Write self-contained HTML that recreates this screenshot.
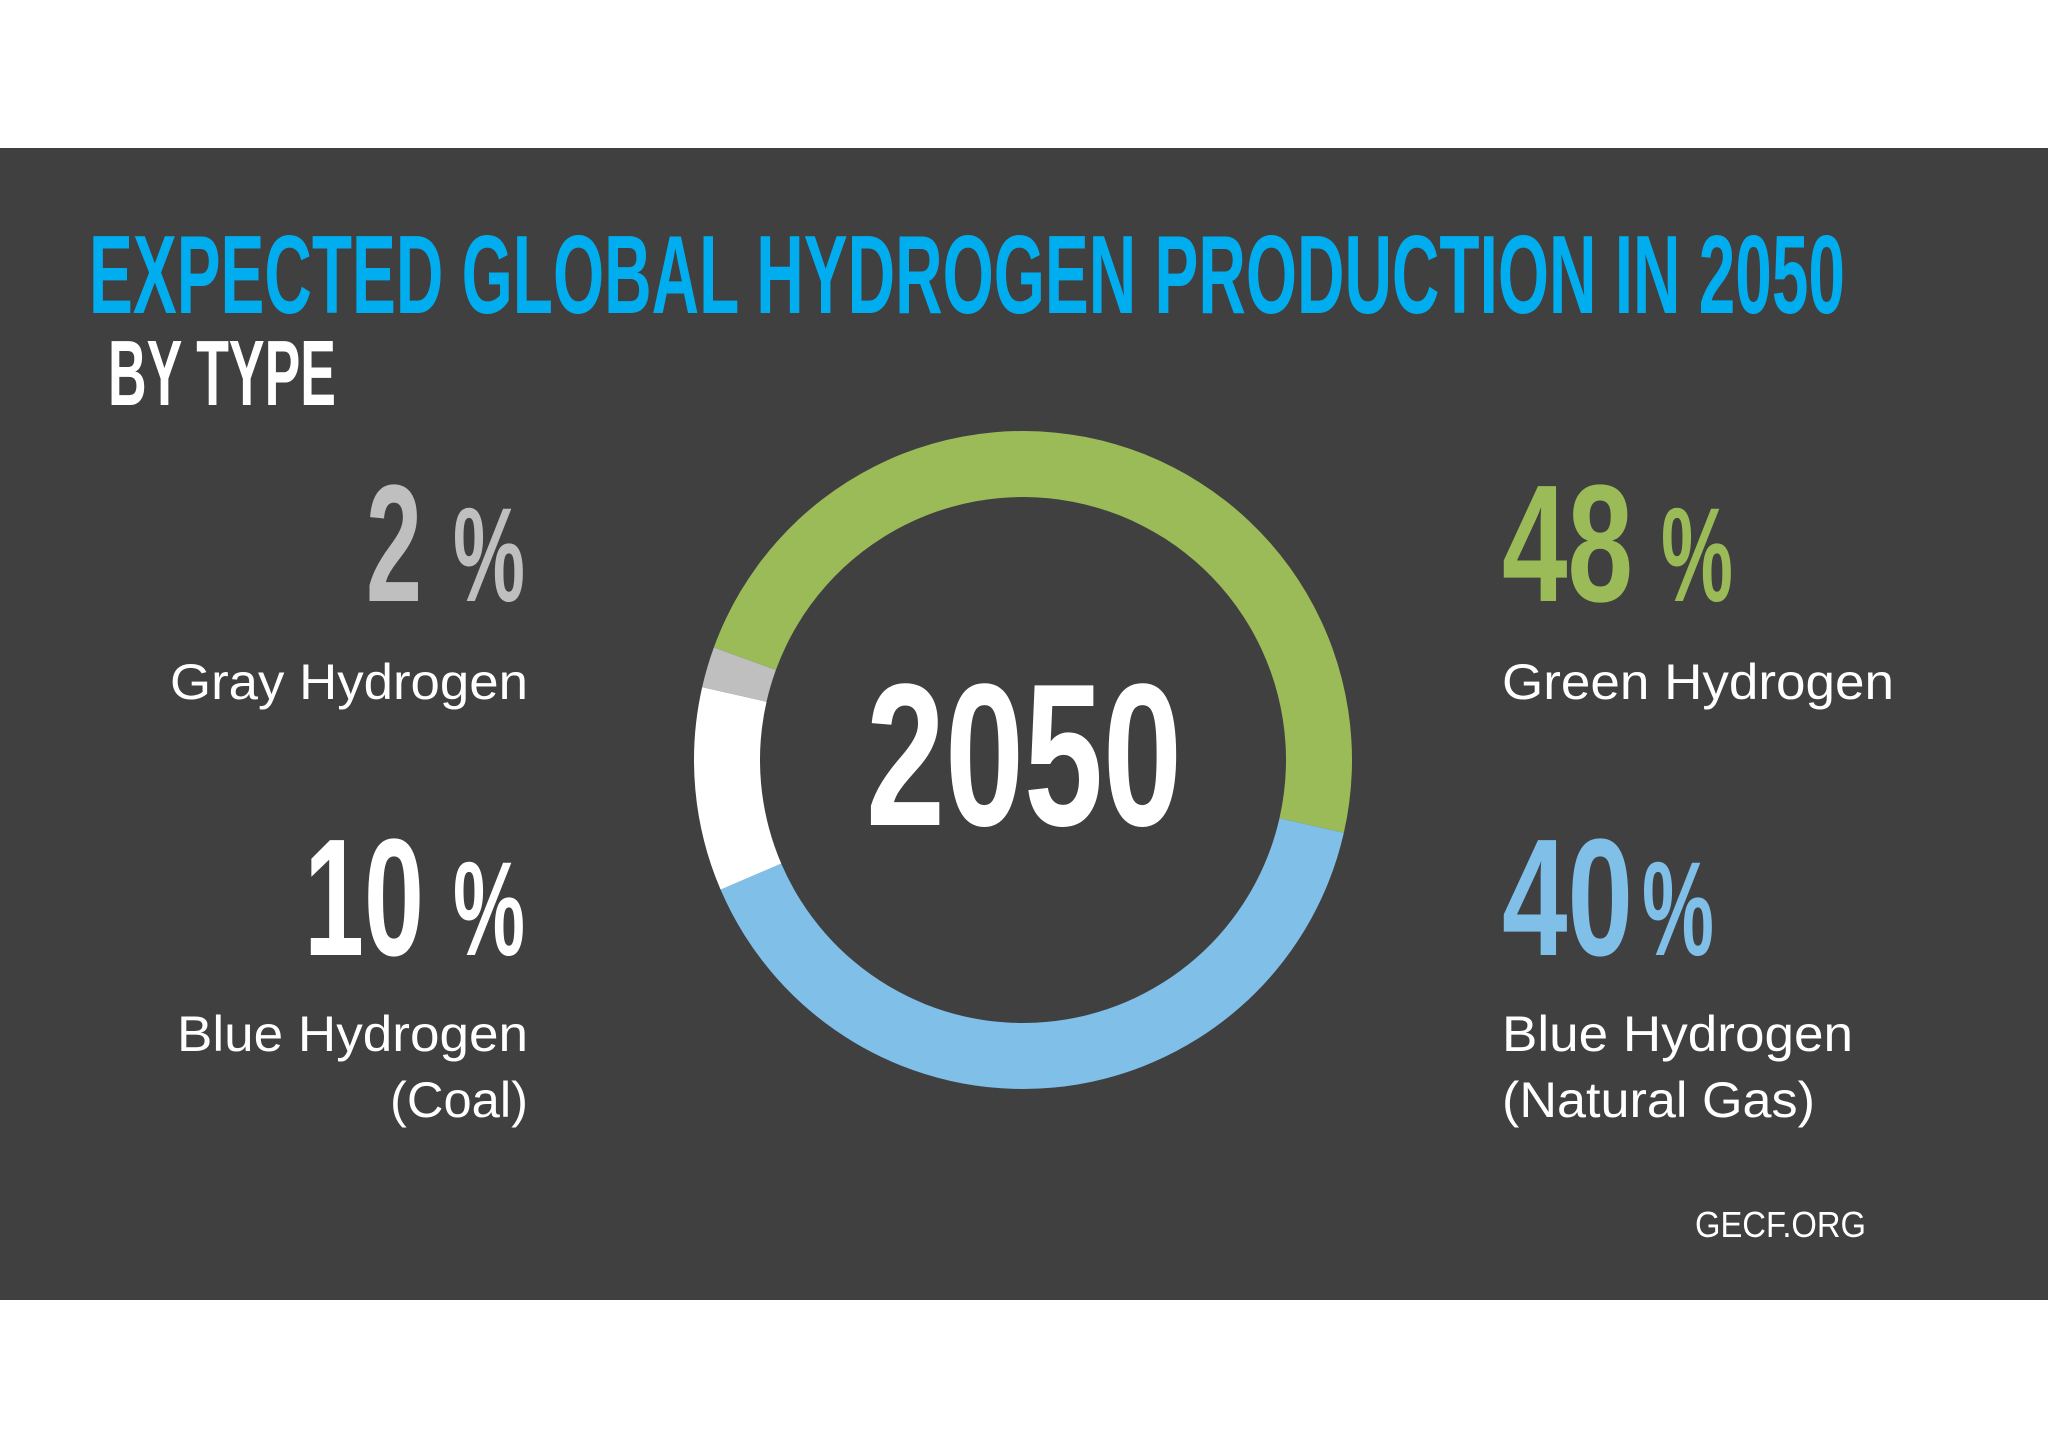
<!DOCTYPE html>
<html><head><meta charset="utf-8"><style>
html,body{margin:0;padding:0;background:#fff;}
svg{display:block;}
</style></head><body>
<svg width="2048" height="1448" viewBox="0 0 2048 1448" xmlns="http://www.w3.org/2000/svg" font-family="Liberation Sans, sans-serif">
<rect x="0" y="0" width="2048" height="1448" fill="#ffffff"/>
<rect x="0" y="148" width="2048" height="1152" fill="#404040"/>
<text x="89" y="313" font-size="111" font-weight="bold" fill="#00aeef" textLength="1756" lengthAdjust="spacingAndGlyphs">EXPECTED GLOBAL HYDROGEN PRODUCTION IN 2050</text>
<text x="108" y="405" font-size="93" font-weight="bold" fill="#ffffff" textLength="228" lengthAdjust="spacingAndGlyphs">BY TYPE</text>
<g id="donut"></g>
<text x="1024" y="825" font-size="203" font-weight="bold" fill="#ffffff" text-anchor="middle" textLength="316" lengthAdjust="spacingAndGlyphs">2050</text>

<text x="366" y="601" font-size="167" font-weight="bold" fill="#bfbfbf" textLength="56" lengthAdjust="spacingAndGlyphs">2</text>
<text x="453" y="601" font-size="134" font-weight="bold" fill="#bfbfbf" textLength="72" lengthAdjust="spacingAndGlyphs">%</text>
<text x="170" y="699" font-size="50" fill="#ffffff" textLength="358" lengthAdjust="spacingAndGlyphs">Gray Hydrogen</text>

<text x="304" y="955" font-size="167" font-weight="bold" fill="#ffffff" textLength="120" lengthAdjust="spacingAndGlyphs">10</text>
<text x="453" y="955" font-size="134" font-weight="bold" fill="#ffffff" textLength="72" lengthAdjust="spacingAndGlyphs">%</text>
<text x="177" y="1051" font-size="50" fill="#ffffff" textLength="351" lengthAdjust="spacingAndGlyphs">Blue Hydrogen</text>
<text x="390" y="1117" font-size="50" fill="#ffffff" textLength="138" lengthAdjust="spacingAndGlyphs">(Coal)</text>

<text x="1502" y="601" font-size="167" font-weight="bold" fill="#9bbb59" textLength="131" lengthAdjust="spacingAndGlyphs">48</text>
<text x="1661" y="601" font-size="134" font-weight="bold" fill="#9bbb59" textLength="72" lengthAdjust="spacingAndGlyphs">%</text>
<text x="1502" y="699" font-size="50" fill="#ffffff" textLength="392" lengthAdjust="spacingAndGlyphs">Green Hydrogen</text>

<text x="1502" y="955" font-size="167" font-weight="bold" fill="#7fbfe8" textLength="131" lengthAdjust="spacingAndGlyphs">40</text>
<text x="1642" y="955" font-size="134" font-weight="bold" fill="#7fbfe8" textLength="72" lengthAdjust="spacingAndGlyphs">%</text>
<text x="1502" y="1051" font-size="50" fill="#ffffff" textLength="351" lengthAdjust="spacingAndGlyphs">Blue Hydrogen</text>
<text x="1502" y="1117" font-size="50" fill="#ffffff" textLength="313" lengthAdjust="spacingAndGlyphs">(Natural Gas)</text>

<text x="1695" y="1237" font-size="36" fill="#ffffff" textLength="171" lengthAdjust="spacingAndGlyphs">GECF.ORG</text>
</svg>
<script>
const categories = ["Green Hydrogen", "Blue Hydrogen (Natural Gas)", "Blue Hydrogen (Coal)", "Gray Hydrogen"];
const shares = [48, 40, 10, 2];
const colors = ["#9bbb59", "#7fbfe8", "#ffffff", "#bfbfbf"];
(function(){
  const g = document.getElementById('donut');
  const cx = 1023, cy = 760, rOut = 329, rIn = 263;
  const total = shares.reduce((a,b)=>a+b,0);
  let ang = -70;
  function pt(r,a){const t=(a-90)*Math.PI/180;return [cx+r*Math.cos(t), cy+r*Math.sin(t)];}
  shares.forEach((v,i)=>{
    const sweep = v/total*360;
    const a0 = ang, a1 = ang+sweep;
    const large = sweep>180?1:0;
    const p1=pt(rOut,a0),p2=pt(rOut,a1),p3=pt(rIn,a1),p4=pt(rIn,a0);
    const d=`M${p1[0]},${p1[1]} A${rOut},${rOut} 0 ${large} 1 ${p2[0]},${p2[1]} L${p3[0]},${p3[1]} A${rIn},${rIn} 0 ${large} 0 ${p4[0]},${p4[1]} Z`;
    const path=document.createElementNS('http://www.w3.org/2000/svg','path');
    path.setAttribute('d',d);
    path.setAttribute('fill',colors[i]);
    
    
    g.appendChild(path);
    ang = a1;
  });
})();
</script>
</body></html>
